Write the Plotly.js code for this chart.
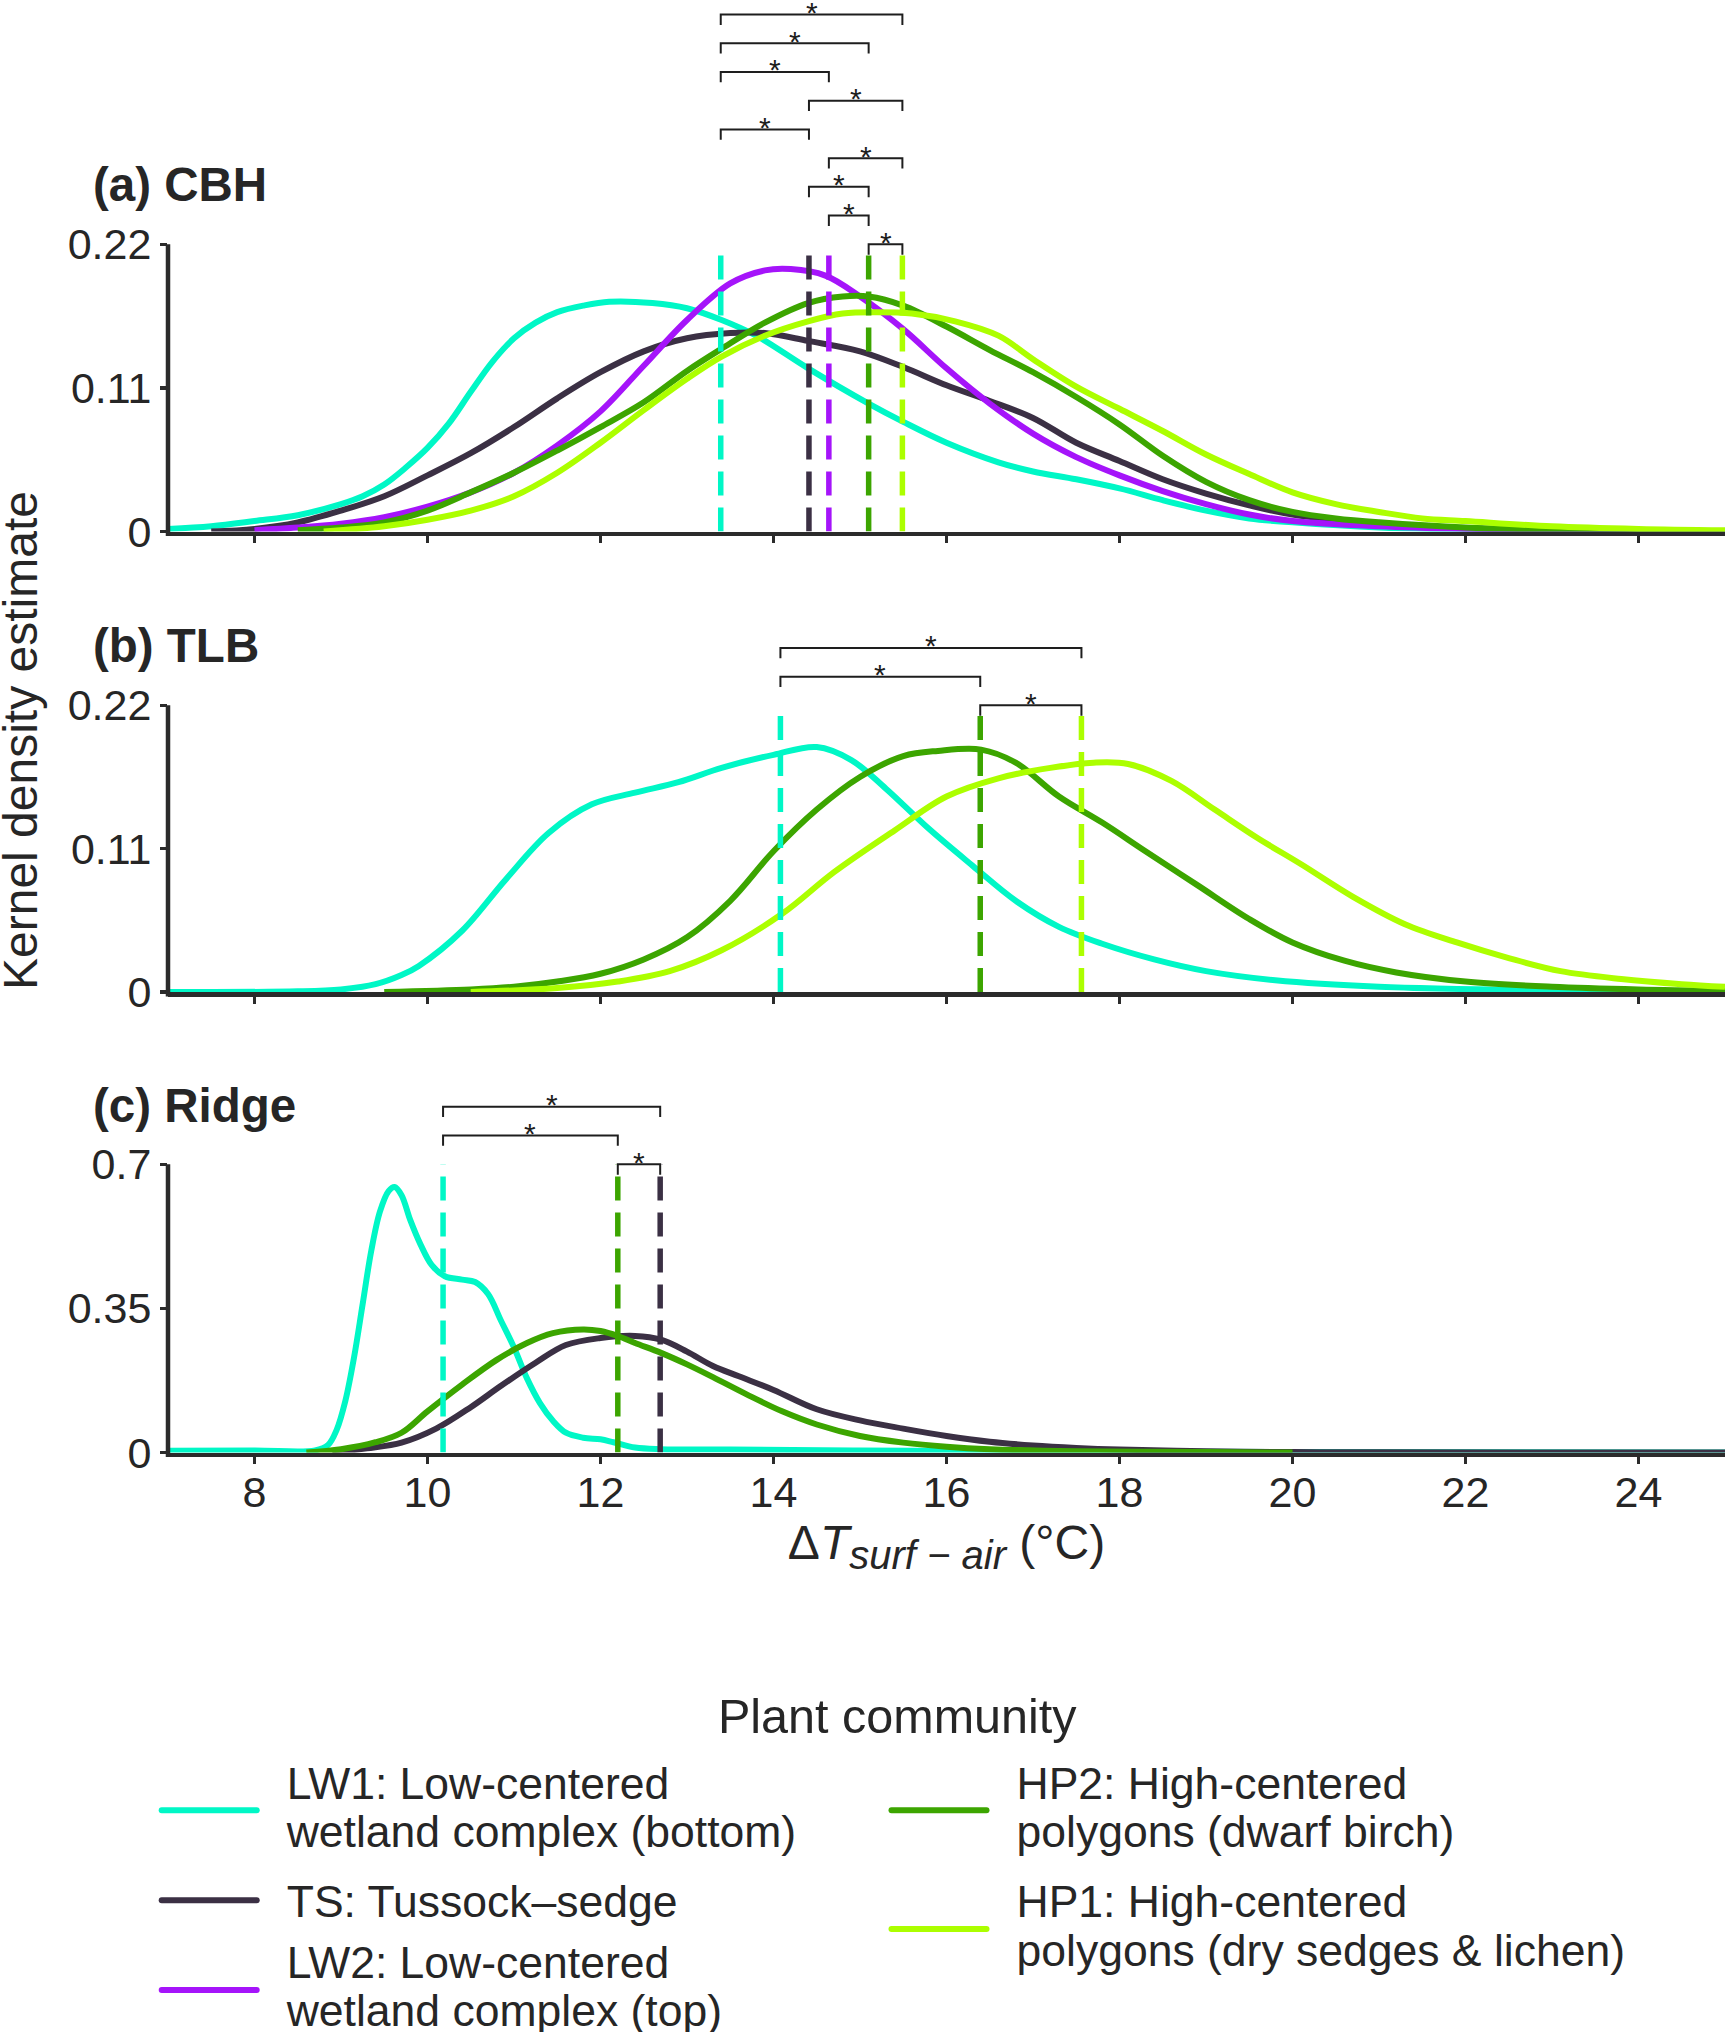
<!DOCTYPE html>
<html>
<head>
<meta charset="utf-8">
<script src="https://cdn.plot.ly/plotly-3.0.1.min.js"></script>
<style>html,body{margin:0;padding:0;background:#fff;}</style>
</head>
<body>
<div id="chart" style="width:1725px;height:2032px;"></div>
<script>
// ---------------- DATA ----------------
// Panel (a) CBH : kernel density curves
const cbhLW1x = [7, 7.5, 8, 8.5, 9, 9.25, 9.5, 9.75, 10.0, 10.25, 10.5, 10.75, 11.0, 11.25, 11.5, 11.8, 12.1, 12.6, 13.0, 13.4, 13.8, 14.4, 15.1, 15.5, 16.0, 16.6, 17.0, 17.5, 18.0, 18.5, 19.0, 19.5, 20.0, 21.0, 22.0, 23.0, 25.0];
const cbhLW1y = [0.002, 0.004, 0.008, 0.0125, 0.021, 0.027, 0.036, 0.049, 0.064, 0.083, 0.107, 0.130, 0.148, 0.160, 0.168, 0.173, 0.176, 0.175, 0.171, 0.162, 0.150, 0.125, 0.098, 0.084, 0.068, 0.053, 0.046, 0.040, 0.033, 0.024, 0.016, 0.010, 0.007, 0.003, 0.0015, 0.001, 0.0003];
const cbhTSx = [7.5, 8.0, 8.5, 9.0, 9.5, 10.0, 10.5, 11.0, 11.5, 12.0, 12.5, 13.0, 13.5, 13.9, 14.4, 15.0, 15.5, 16.0, 16.5, 17.0, 17.5, 18.0, 18.5, 19.0, 19.5, 20.0, 21.0, 22.0, 23.0, 25.0];
const cbhTSy = [0, 0.002, 0.007, 0.016, 0.027, 0.043, 0.060, 0.080, 0.102, 0.122, 0.138, 0.148, 0.152, 0.152, 0.146, 0.138, 0.126, 0.112, 0.100, 0.087, 0.068, 0.054, 0.040, 0.029, 0.020, 0.013, 0.006, 0.0025, 0.001, 0];
const cbhLW2x = [8.0, 8.5, 9.0, 9.5, 10.0, 10.5, 11.0, 11.5, 12.0, 12.5, 13.0, 13.5, 13.9, 14.2, 14.6, 15.0, 15.5, 16.0, 16.5, 17.0, 17.5, 18.0, 18.5, 19.0, 19.5, 20.0, 21.0, 22.0, 23.0, 25.0];
const cbhLW2y = [0.001, 0.003, 0.006, 0.011, 0.019, 0.030, 0.045, 0.066, 0.092, 0.127, 0.162, 0.190, 0.200, 0.201, 0.196, 0.180, 0.155, 0.125, 0.098, 0.075, 0.057, 0.043, 0.031, 0.021, 0.013, 0.008, 0.004, 0.002, 0.001, 0];
const cbhHP2x = [8.5, 9.0, 9.5, 10.0, 10.5, 11.0, 11.5, 12.0, 12.5, 13.0, 13.4, 13.9, 14.4, 14.8, 15.1, 15.5, 16.0, 16.5, 17.0, 17.5, 18.0, 18.5, 19.0, 19.5, 20.0, 20.5, 21.0, 22.0, 23.0, 25.0];
const cbhHP2y = [0.001, 0.003, 0.007, 0.016, 0.030, 0.045, 0.062, 0.080, 0.099, 0.123, 0.140, 0.160, 0.175, 0.180, 0.180, 0.173, 0.157, 0.139, 0.122, 0.103, 0.082, 0.058, 0.038, 0.024, 0.015, 0.010, 0.007, 0.003, 0.0015, 0];
const cbhHP1x = [8.8, 9.5, 10.0, 10.5, 11.0, 11.5, 12.0, 12.5, 13.0, 13.4, 13.9, 14.4, 14.8, 15.2, 15.6, 16.1, 16.6, 17.0, 17.5, 18.0, 18.5, 19.0, 19.5, 20.0, 20.5, 21.0, 21.5, 22.0, 23.0, 24.0, 25.0];
const cbhHP1y = [0, 0.004, 0.009, 0.016, 0.027, 0.045, 0.068, 0.093, 0.117, 0.134, 0.150, 0.161, 0.167, 0.168, 0.167, 0.161, 0.150, 0.132, 0.111, 0.094, 0.077, 0.059, 0.044, 0.030, 0.021, 0.015, 0.010, 0.008, 0.004, 0.002, 0.001];
const cbhMedianGroups = ['LW1', 'TS', 'LW2', 'HP2', 'HP1'];
const cbhMedianValues = [13.39, 14.41, 14.64, 15.10, 15.49];
const cbhPairs = [['HP2','HP1'], ['LW2','HP2'], ['TS','HP2'], ['LW2','HP1'], ['LW1','TS'], ['TS','HP1'], ['LW1','LW2'], ['LW1','HP2'], ['LW1','HP1']];

// Panel (b) TLB
const tlbLW1x = [7, 8.5, 9.0, 9.4, 9.7, 9.9, 10.4, 10.9, 11.4, 11.9, 12.4, 12.9, 13.4, 14.0, 14.5, 14.9, 15.3, 15.8, 16.3, 16.8, 17.3, 17.8, 18.4, 19.0, 19.8, 21.0, 23.0, 25.0];
const tlbLW1y = [0, 0.0005, 0.002, 0.006, 0.013, 0.020, 0.047, 0.086, 0.122, 0.144, 0.153, 0.161, 0.172, 0.182, 0.188, 0.178, 0.156, 0.125, 0.097, 0.070, 0.050, 0.037, 0.025, 0.016, 0.009, 0.004, 0.0012, 0.0003];
const tlbHP2x = [9.5, 10.5, 11.0, 11.5, 12.0, 12.5, 13.0, 13.5, 14.0, 14.5, 15.0, 15.5, 15.9, 16.4, 16.8, 17.3, 17.8, 18.3, 18.9, 19.5, 20.0, 20.6, 21.2, 22.0, 23.0, 24.0, 25.0];
const tlbHP2y = [0, 0.002, 0.004, 0.008, 0.014, 0.025, 0.042, 0.070, 0.108, 0.140, 0.165, 0.181, 0.185, 0.186, 0.176, 0.150, 0.130, 0.108, 0.082, 0.056, 0.038, 0.024, 0.015, 0.008, 0.004, 0.002, 0.001];
const tlbHP1x = [10.5, 11.5, 12.2, 12.8, 13.4, 14.1, 14.7, 15.4, 16.0, 16.6, 17.2, 17.7, 18.1, 18.6, 19.1, 19.6, 20.1, 20.7, 21.3, 21.9, 22.5, 23.1, 23.8, 24.5, 25.0];
const tlbHP1y = [0, 0.003, 0.008, 0.016, 0.032, 0.060, 0.092, 0.124, 0.150, 0.164, 0.172, 0.176, 0.175, 0.162, 0.140, 0.118, 0.098, 0.073, 0.052, 0.038, 0.026, 0.016, 0.010, 0.006, 0.004];
const tlbMedianGroups = ['LW1', 'HP2', 'HP1'];
const tlbMedianValues = [14.08, 16.39, 17.56];
const tlbPairs = [['HP2','HP1'], ['LW1','HP2'], ['LW1','HP1']];

// Panel (c) Ridge
const ridgeLW1x = [7.0, 8.0, 8.7, 8.85, 8.95, 9.05, 9.15, 9.25, 9.35, 9.45, 9.55, 9.62, 9.7, 9.8, 9.92, 10.05, 10.2, 10.4, 10.55, 10.7, 10.85, 11.0, 11.15, 11.3, 11.45, 11.6, 11.8, 12.0, 12.15, 12.4, 12.7, 13.5, 15.0, 17.0, 20.0, 25.0];
const ridgeLW1y = [0.004, 0.005, 0.005, 0.018, 0.055, 0.125, 0.23, 0.36, 0.49, 0.585, 0.635, 0.645, 0.625, 0.565, 0.505, 0.455, 0.428, 0.42, 0.414, 0.385, 0.32, 0.255, 0.18, 0.12, 0.077, 0.048, 0.036, 0.032, 0.025, 0.012, 0.008, 0.007, 0.005, 0.003, 0.001, 0];
const ridgeTSx = [8.9, 9.3, 9.7, 10.1, 10.5, 10.85, 11.25, 11.6, 12.0, 12.4, 12.7, 13.0, 13.3, 13.6, 14.0, 14.5, 15.0, 15.5, 16.0, 16.5, 17.0, 17.5, 18.0, 19.0, 20.0, 21.0, 25.0];
const ridgeTSy = [0, 0.010, 0.024, 0.058, 0.11, 0.162, 0.218, 0.261, 0.278, 0.283, 0.274, 0.245, 0.210, 0.185, 0.152, 0.105, 0.078, 0.058, 0.040, 0.026, 0.017, 0.011, 0.007, 0.003, 0.001, 0.0005, 0];
const ridgeHP2x = [8.6, 9.0, 9.4, 9.7, 10.0, 10.4, 10.8, 11.15, 11.45, 11.8, 12.0, 12.2, 12.4, 12.7, 13.0, 13.3, 13.7, 14.1, 14.5, 15.0, 15.5, 16.0, 16.5, 17.5, 19.0, 20.0];
const ridgeHP2y = [0, 0.008, 0.025, 0.048, 0.10, 0.165, 0.225, 0.266, 0.29, 0.299, 0.295, 0.283, 0.266, 0.242, 0.214, 0.183, 0.140, 0.100, 0.068, 0.040, 0.024, 0.014, 0.008, 0.003, 0.001, 0];
const ridgeMedianGroups = ['LW1', 'HP2', 'TS'];
const ridgeMedianValues = [10.18, 12.20, 12.69];
const ridgePairs = [['HP2','TS'], ['LW1','HP2'], ['LW1','TS']];

// Tick labels
const xTickVals = [8, 10, 12, 14, 16, 18, 20, 22, 24];
const yTicksCBH = [0, 0.11, 0.22];
const yTicksTLB = [0, 0.11, 0.22];
const yTicksRidge = [0, 0.35, 0.7];
const yTickTextCBH = ['0', '0.11', '0.22'];
const yTickTextTLB = ['0', '0.11', '0.22'];
const yTickTextRidge = ['0', '0.35', '0.7'];

// Category names
const groupNames = {
  LW1: 'LW1: Low-centered<br>wetland complex (bottom)',
  TS: 'TS: Tussock–sedge',
  LW2: 'LW2: Low-centered<br>wetland complex (top)',
  HP2: 'HP2: High-centered<br>polygons (dwarf birch)',
  HP1: 'HP1: High-centered<br>polygons (dry sedges & lichen)'
};
const sigLabel = '*';

// ---------------- STYLE / LAYOUT ----------------
const FONT = "'Liberation Sans', Arial, Helvetica, sans-serif";
const INK = '#262626';
const AXC = '#2b2b2b';
const W = 1725, H = 2032, ML = 168, PW = W - ML;
const groupStyle = {
  LW1: {color: '#00F7C6', legend: 'legend'},
  TS:  {color: '#3B3044', legend: 'legend'},
  LW2: {color: '#A514FA', legend: 'legend'},
  HP2: {color: '#3CA500', legend: 'legend2'},
  HP1: {color: '#ACFF00', legend: 'legend2'}
};
const CURVE_W = 6, DASH_W = 5.5;

const panels = [
  {label: '(a) CBH', xa: 'x', ya: 'y', zeroPx: 531.5, maxPx: 244.3, tickMax: 0.22, rangeTop: 0.405,
   curves: {LW1: [cbhLW1x, cbhLW1y], TS: [cbhTSx, cbhTSy], LW2: [cbhLW2x, cbhLW2y], HP2: [cbhHP2x, cbhHP2y], HP1: [cbhHP1x, cbhHP1y]},
   medG: cbhMedianGroups, medV: cbhMedianValues, pairs: cbhPairs, tv: yTicksCBH, tt: yTickTextCBH, legend: true},
  {label: '(b) TLB', xa: 'x2', ya: 'y2', zeroPx: 992, maxPx: 705.3, tickMax: 0.22, rangeTop: 0.30,
   curves: {LW1: [tlbLW1x, tlbLW1y], HP2: [tlbHP2x, tlbHP2y], HP1: [tlbHP1x, tlbHP1y]},
   medG: tlbMedianGroups, medV: tlbMedianValues, pairs: tlbPairs, tv: yTicksTLB, tt: yTickTextTLB, legend: false},
  {label: '(c) Ridge', xa: 'x3', ya: 'y3', zeroPx: 1452.5, maxPx: 1164.3, tickMax: 0.7, rangeTop: 0.95,
   curves: {LW1: [ridgeLW1x, ridgeLW1y], TS: [ridgeTSx, ridgeTSy], HP2: [ridgeHP2x, ridgeHP2y]},
   medG: ridgeMedianGroups, medV: ridgeMedianValues, pairs: ridgePairs, tv: yTicksRidge, tt: yTickTextRidge, legend: false}
];

const traces = [];
const shapes = [];
const annotations = [];
const layout = {
  width: W, height: H,
  margin: {l: ML, r: 0, t: 0, b: 0, autoexpand: false},
  paper_bgcolor: '#ffffff', plot_bgcolor: 'rgba(0,0,0,0)',
  font: {family: FONT, color: INK, size: 43},
  showlegend: true,
  hovermode: false
};

const order = ['LW1', 'TS', 'LW2', 'HP2', 'HP1'];

panels.forEach((p, i) => {
  const ppu = (p.zeroPx - p.maxPx) / p.tickMax;
  const topPx = p.zeroPx - p.rangeTop * ppu;
  const domain = [1 - p.zeroPx / H, 1 - topPx / H];
  const xKey = i === 0 ? 'xaxis' : 'xaxis' + (i + 1);
  const yKey = i === 0 ? 'yaxis' : 'yaxis' + (i + 1);
  const isBottom = i === panels.length - 1;
  layout[xKey] = {
    range: [7, 25], anchor: p.ya, domain: [0, 1],
    showline: true, linewidth: 4.5, linecolor: AXC,
    ticks: 'outside', ticklen: 7, tickwidth: 3.5, tickcolor: AXC,
    tickvals: xTickVals, showticklabels: isBottom,
    tickfont: {size: 43, family: FONT, color: INK},
    showgrid: false, zeroline: false, fixedrange: true
  };
  if (isBottom) {
    layout[xKey].ticklabelstandoff = -9;
    layout[xKey].title = {
      text: 'Δ<i>T</i><sub><span style="font-size:40px"><i>surf − air</i></span></sub> (°C)',
      font: {size: 48, family: FONT, color: INK}, standoff: 8
    };
  }
  layout[yKey] = {
    range: [0, p.rangeTop], domain: domain, anchor: p.xa,
    tickvals: p.tv, ticktext: p.tt,
    ticks: 'outside', ticklen: 7, tickwidth: 3.5, tickcolor: AXC,
    tickfont: {size: 43, family: FONT, color: INK},
    showline: false, showgrid: false, zeroline: false, fixedrange: true
  };
  // y axis line: only from 0 to the top tick
  const domPx = p.rangeTop * ppu;
  shapes.push({
    type: 'line', xref: p.xa + ' domain', yref: p.ya + ' domain',
    x0: 0, x1: 0, y0: -4.5 / domPx, y1: p.tickMax / p.rangeTop,
    line: {color: AXC, width: 4.5}, layer: 'above'
  });

  // density curves
  order.forEach(g => {
    if (!p.curves[g]) return;
    traces.push({
      type: 'scatter', mode: 'lines', x: p.curves[g][0], y: p.curves[g][1],
      xaxis: p.xa, yaxis: p.ya, name: groupNames[g],
      legend: groupStyle[g].legend, showlegend: p.legend,
      line: {color: groupStyle[g].color, width: CURVE_W, shape: 'spline', smoothing: 1.0},
      hoverinfo: 'skip'
    });
  });
  // median dashed lines
  p.medG.forEach((g, k) => {
    traces.push({
      type: 'scatter', mode: 'lines', x: [p.medV[k], p.medV[k]], y: [0, p.tickMax],
      xaxis: p.xa, yaxis: p.ya, showlegend: false,
      line: {color: groupStyle[g].color, width: DASH_W, dash: '24px,12px'},
      hoverinfo: 'skip'
    });
  });
  // significance brackets
  const step = 0.1 * p.tickMax;
  const arm = 0.36 * step;
  const bx = [], by = [];
  p.pairs.forEach((pr, k) => {
    const x1 = p.medV[p.medG.indexOf(pr[0])];
    const x2 = p.medV[p.medG.indexOf(pr[1])];
    const lvl = p.tickMax + k * step;
    bx.push(x1, x1, x2, x2, null);
    by.push(lvl - arm, lvl, lvl, lvl - arm, null);
    annotations.push({
      xref: p.xa, yref: p.ya, x: (x1 + x2) / 2, y: lvl, text: sigLabel,
      showarrow: false, xanchor: 'center', yanchor: 'middle', yshift: 2,
      font: {size: 30, family: FONT, color: '#1e1e1e'}
    });
  });
  traces.push({
    type: 'scatter', mode: 'lines', x: bx, y: by, xaxis: p.xa, yaxis: p.ya,
    showlegend: false, line: {color: '#1e1e1e', width: 2}, hoverinfo: 'skip', connectgaps: false
  });
  // panel label
  annotations.push({
    xref: 'paper', yref: 'paper', x: (90.7 - ML) / PW, y: 1 - (p.zeroPx - 347) / H,
    xanchor: 'left', yanchor: 'middle', showarrow: false,
    text: '<b>' + p.label + '</b>', font: {size: 47.5, family: FONT, color: INK}
  });
});

// y axis title (shared)
annotations.push({
  xref: 'paper', yref: 'paper', x: (20.5 - ML) / PW, y: 1 - 740.5 / H,
  xanchor: 'center', yanchor: 'middle', showarrow: false, textangle: -90,
  text: 'Kernel density estimate', font: {size: 48, family: FONT, color: INK}
});
// legend title
annotations.push({
  xref: 'paper', yref: 'paper', x: (897 - ML) / PW, y: 1 - 1716 / H,
  xanchor: 'center', yanchor: 'middle', showarrow: false,
  text: 'Plant community', font: {size: 48.5, family: FONT, color: INK}
});

const legendBase = {
  xref: 'paper', yref: 'paper', xanchor: 'left', yanchor: 'top', orientation: 'v',
  itemwidth: 124, font: {size: 44.5, family: FONT, color: INK},
  bgcolor: 'rgba(0,0,0,0)', borderwidth: 0, traceorder: 'normal'
};
layout.legend = Object.assign({}, legendBase, {x: (152.7 - ML) / PW, y: 1 - 1746 / H});
layout.legend2 = Object.assign({}, legendBase, {x: (882.5 - ML) / PW, y: 1 - 1746 / H});
layout.shapes = shapes;
layout.annotations = annotations;

function patchLegends(gd) {
  // legend sample lines: longer, with round caps
  gd.querySelectorAll('.legendlines path').forEach(pth => {
    pth.setAttribute('d', 'M9,0h95');
    pth.style.strokeLinecap = 'round';
  });
  // tighter line spacing inside two-line legend entries (both legends)
  gd.querySelectorAll('text.legendtext, text.legend2text').forEach(t => {
    t.querySelectorAll('tspan.line').forEach((ln, k) => {
      if (k > 0) ln.setAttribute('dy', (k * 1.08) + 'em');
    });
  });
}

Plotly.newPlot('chart', traces, layout, {staticPlot: true, displayModeBar: false}).then(gd => {
  patchLegends(gd);
  gd.on('plotly_afterplot', () => patchLegends(gd));
  requestAnimationFrame(() => patchLegends(gd));
  setTimeout(() => patchLegends(gd), 30);
});
</script>
</body>
</html>
